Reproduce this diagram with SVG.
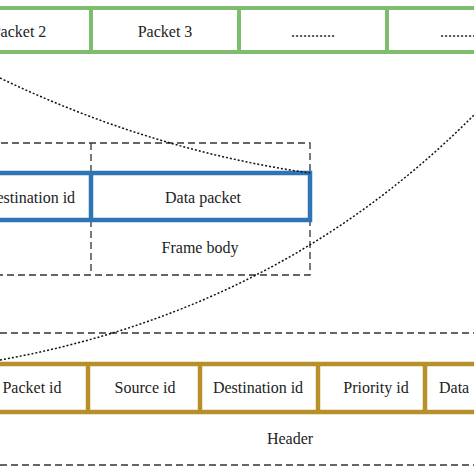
<svg xmlns="http://www.w3.org/2000/svg" width="474" height="474" viewBox="0 0 474 474">
<style>
text{font-family:"Liberation Serif","Times New Roman",serif;font-size:16px;fill:#222;text-anchor:middle}
.g{fill:#fff;stroke:#7dbd6d;stroke-width:4}
.b{fill:#fff;stroke:#2e75b6;stroke-width:4.5}
.y{fill:#fff;stroke:#b8902a;stroke-width:4.5}
.dash{fill:none;stroke:#333;stroke-width:1.3;stroke-dasharray:7,4}
.dot{fill:none;stroke:#111;stroke-width:1.5;stroke-dasharray:2,2}
</style>
<rect width="474" height="474" fill="#fff"/>
<g id="packets-row">
<rect class="g" x="-10" y="8" width="494" height="44"/>
<line class="g" x1="91" y1="8" x2="91" y2="52"/>
<line class="g" x1="239" y1="8" x2="239" y2="52"/>
<line class="g" x1="387" y1="8" x2="387" y2="52"/>
<text x="19" y="37">Packet 2</text>
<text x="165" y="37">Packet 3</text>
<text x="313" y="37">...........</text>
<text x="462" y="37">...........</text>
</g>
<g id="frame">
<rect class="dash" x="-10" y="143" width="320" height="132"/>
<line class="dash" x1="91" y1="143" x2="91" y2="275" stroke-width="1"/>
<rect class="b" x="-10" y="173" width="320" height="47"/>
<line class="b" x1="91" y1="173" x2="91" y2="220"/>
<text x="30" y="203">Destination id</text>
<text x="203" y="203">Data packet</text>
<text x="200" y="253">Frame body</text>
</g>
<g id="header">
<line class="dash" x1="0" y1="333" x2="474" y2="333"/>
<line class="dash" x1="0" y1="465" x2="474" y2="465"/>
<rect class="y" x="-10" y="364" width="494" height="48"/>
<line class="y" x1="88" y1="364" x2="88" y2="412"/>
<line class="y" x1="200" y1="364" x2="200" y2="412"/>
<line class="y" x1="318" y1="364" x2="318" y2="412" stroke-width="6"/>
<line class="y" x1="425" y1="364" x2="425" y2="412"/>
<text x="32" y="393">Packet id</text>
<text x="145" y="393">Source id</text>
<text x="258" y="393">Destination id</text>
<text x="376" y="393">Priority id</text>
<text x="439" y="393" style="text-anchor:start">Data</text>
<text x="290" y="444">Header</text>
</g>
<g id="connectors">
<path class="dot" d="M0,78 Q150,150 310,173"/>
<path class="dot" d="M0,360 Q280,310 474,115"/>
</g>
</svg>
